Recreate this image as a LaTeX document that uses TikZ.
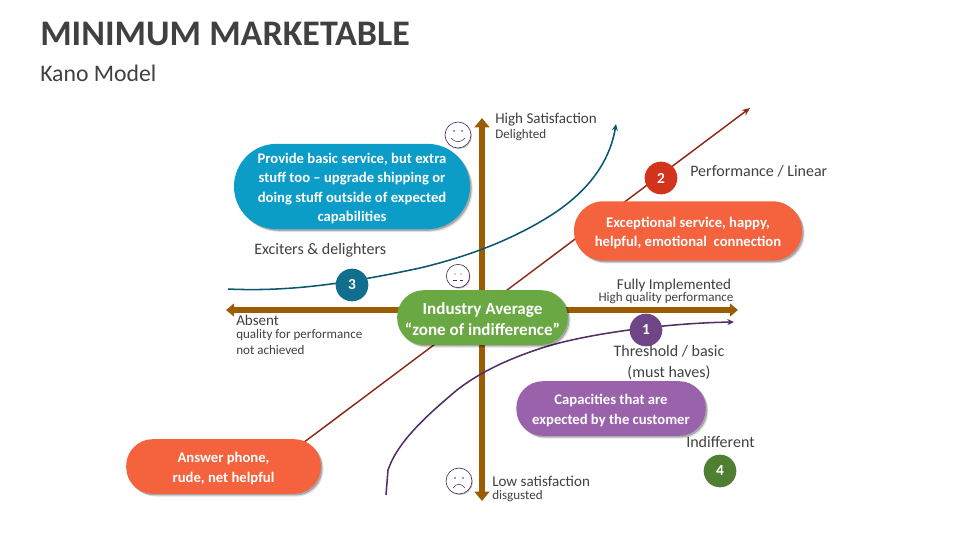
\documentclass[tikz,border=0pt]{standalone}
\usepackage{fontspec}
\setmainfont{Carlito}
\usetikzlibrary{shadows,arrows.meta,calc}
\definecolor{axisc}{HTML}{9C5C04}
\definecolor{txt}{HTML}{404040}
\definecolor{blu}{HTML}{0B9CC8}
\definecolor{org}{HTML}{F4623E}
\definecolor{grn}{HTML}{6AA843}
\definecolor{pur}{HTML}{9A62AB}
\definecolor{dpur}{HTML}{6F4585}
\definecolor{red2}{HTML}{D5341C}
\definecolor{teal2}{HTML}{0F6F8C}
\definecolor{grn2}{HTML}{4F7F32}
\definecolor{curvep}{HTML}{4F2F66}
\definecolor{curvet}{HTML}{0B5670}
\definecolor{curver}{HTML}{8E2A16}
\newcommand{\topadj}{\rule{0pt}{10.5pt}}
\tikzset{
  x=0.75pt,y=-0.75pt,
  softshadow/.style={drop shadow={shadow xshift=2pt,shadow yshift=-2pt,fill=black,opacity=.12},
    drop shadow={shadow xshift=1.2pt,shadow yshift=-1.2pt,fill=black,opacity=.25}},
  pill/.style={draw=none,rounded corners=#1,align=center,text=white,font=\fontsize{11}{14.6}\selectfont\bfseries,
    softshadow,inner sep=0pt},
  badge/.style={circle,minimum size=24.5pt,inner sep=0pt,text=white,font=\fontsize{11.5}{12}\selectfont\bfseries},
  lab/.style={text=txt,font=\fontsize{11.3}{12}\selectfont,inner sep=0pt,anchor=base west},
  biglab/.style={text=txt,font=\fontsize{12}{12}\selectfont,inner sep=0pt,anchor=base west},
  sublab/.style={text=txt,font=\fontsize{9.8}{10}\selectfont,inner sep=0pt,anchor=base west},
  face/.style={circle,draw=curvep,fill=white,line width=.5pt,minimum size=19pt,inner sep=0pt,
    drop shadow={shadow xshift=.6pt,shadow yshift=-.8pt,fill=black,opacity=.25}},
  axisline/.style={axisc,line width=#1,-{Triangle[width=11pt,length=7pt]}},
  axisline/.default=5.2pt,
  curvea/.style={line width=1.15pt,-{Stealth[length=5pt,width=4.5pt]}}
}
\begin{document}
\begin{tikzpicture}
\useasboundingbox (0,0) rectangle (960,540);
\node[text=txt,font=\fontsize{27}{30}\selectfont\bfseries,inner sep=0pt,anchor=base west] (title) at (40,45.7) {MINIMUM MARKETABLE};
\node[text=txt,font=\fontsize{17.8}{20}\selectfont,inner sep=0pt,anchor=base west] (subtitle) at (40,81) {Kano Model};

% anchors
\coordinate (vtop) at (482,118);
\coordinate (vbot) at (482,501);
\coordinate (hl) at (226,310);
\coordinate (hr) at (738,310);
\coordinate (vc) at (482,310);
% axes
\draw[axisline=5.2pt] (vc) -- (vtop);
\draw[axisline=5.2pt] (vc) -- (vbot);
\draw[axisline=3.8pt,-{Triangle[width=9.5pt,length=6pt]}] (vc) -- (hr);
\draw[axisline=3.8pt,-{Triangle[width=9.5pt,length=6pt]}] (vc) -- (hl);

% red line
\coordinate (redstart) at (303,443);
\coordinate (redend) at (750,108);
\draw[curver,line width=1.1pt,-{Stealth[length=6pt,width=5pt]}] (redstart) -- (redend);

% teal curve
\coordinate (ts) at (228,289);
\coordinate (te) at (616,124);
\draw[curvet,curvea] (ts) .. controls (290,292) and (350,283) .. (420,268)
  .. controls (470,256) and (510,240) .. (545,219)
  .. controls (590,192) and (610,160) .. (te);

% purple curve
\coordinate (ps) at (386,495);
\coordinate (pe) at (734,322);
\draw[curvep,curvea] (ps) -- (388,470) .. controls (396,447) and (415,425) .. (457,390)
  .. controls (480,372) and (510,358) .. (545,347)
  .. controls (590,333) and (670,323) .. (pe);

% pills
\node[pill=32pt,fill=blu,minimum width=177pt,minimum height=64pt] (p1) at (352,186.5)
 {\topadj Provide basic service, but extra\\stuff too – upgrade shipping or\\doing stuff outside of expected\\capabilities};
\node[pill=22pt,fill=org,minimum width=171pt,minimum height=44.5pt] (p2) at (688,231)
 {\topadj Exceptional service, happy,\\helpful, emotional\ \ connection};
\node[pill=20pt,fill=org,minimum width=146pt,minimum height=41pt] (p3) at (223.5,466.5)
 {\topadj Answer phone,\\rude, net helpful};
\node[pill=20pt,fill=pur,minimum width=142pt,minimum height=41pt] (p4) at (611,408.5)
 {\topadj Capacities that are\\expected by the customer};
\node[pill=20pt,fill=grn,minimum width=128pt,minimum height=41pt,font=\fontsize{12.8}{16}\selectfont\bfseries] (p5) at (482.5,317.5)
 {\rule{0pt}{11.5pt}Industry Average\\“zone of indifference”};

% badges
\node[badge,fill=dpur] (b1) at (646,330) {1};
\node[badge,fill=red2] (b2) at (661,178) {2};
\node[badge,fill=teal2] (b3) at (352,285) {3};
\node[badge,fill=grn2] (b4) at (720,471) {4};

% faces
\node[face,minimum size=19.5pt] (f1) at (458,135) {};
\draw[curvep,line width=.4pt] ($(f1)+(-7,3)$) .. controls ($(f1)+(-3,8)$) and ($(f1)+(3,8)$) .. ($(f1)+(7,3)$);
\fill[curvep] ($(f1)+(-4,-4)$) circle (.6pt) ($(f1)+(4,-4)$) circle (.6pt);
\node[face,minimum size=17.5pt] (f2) at (458,276) {};
\draw[curvep,line width=.3pt,densely dashed] ($(f2)+(-5,4)$) -- ($(f2)+(5,4)$);
\fill[curvep] ($(f2)+(-3,-2)$) circle (.4pt) ($(f2)+(3,-2)$) circle (.4pt);
\node[face,minimum size=19.5pt] (f3) at (459,481) {};
\draw[curvep,line width=.4pt] ($(f3)+(-6,7)$) .. controls ($(f3)+(-3,2)$) and ($(f3)+(3,2)$) .. ($(f3)+(6,7)$);
\fill[curvep] ($(f3)+(-4,-3)$) circle (.6pt) ($(f3)+(4,-3)$) circle (.6pt);

% labels
\node[lab] (l1) at (495,123) {High Satisfaction};
\node[sublab] (l2) at (495,138) {Delighted};
\node[biglab] (l3) at (690,176) {Performance / Linear};
\node[biglab] (l4) at (254,254) {Exciters \& delighters};
\node[lab,anchor=base] (l5) at (674,289) {Fully Implemented};
\node[sublab,anchor=base] (l6) at (666,301) {High quality performance};
\node[lab] (l7) at (236,325) {Absent};
\node[sublab] (l8) at (236,338) {quality for performance};
\node[sublab] (l9) at (236,354) {not achieved};
\node[biglab,anchor=base] (l10) at (669,356) {Threshold / basic};
\node[biglab,anchor=base] (l11) at (669,377) {(must haves)};
\node[biglab] (l12) at (686,447) {Indifferent};
\node[lab] (l13) at (492,486) {Low satisfaction};
\node[sublab] (l14) at (492,499) {disgusted};
\end{tikzpicture}
\end{document}
